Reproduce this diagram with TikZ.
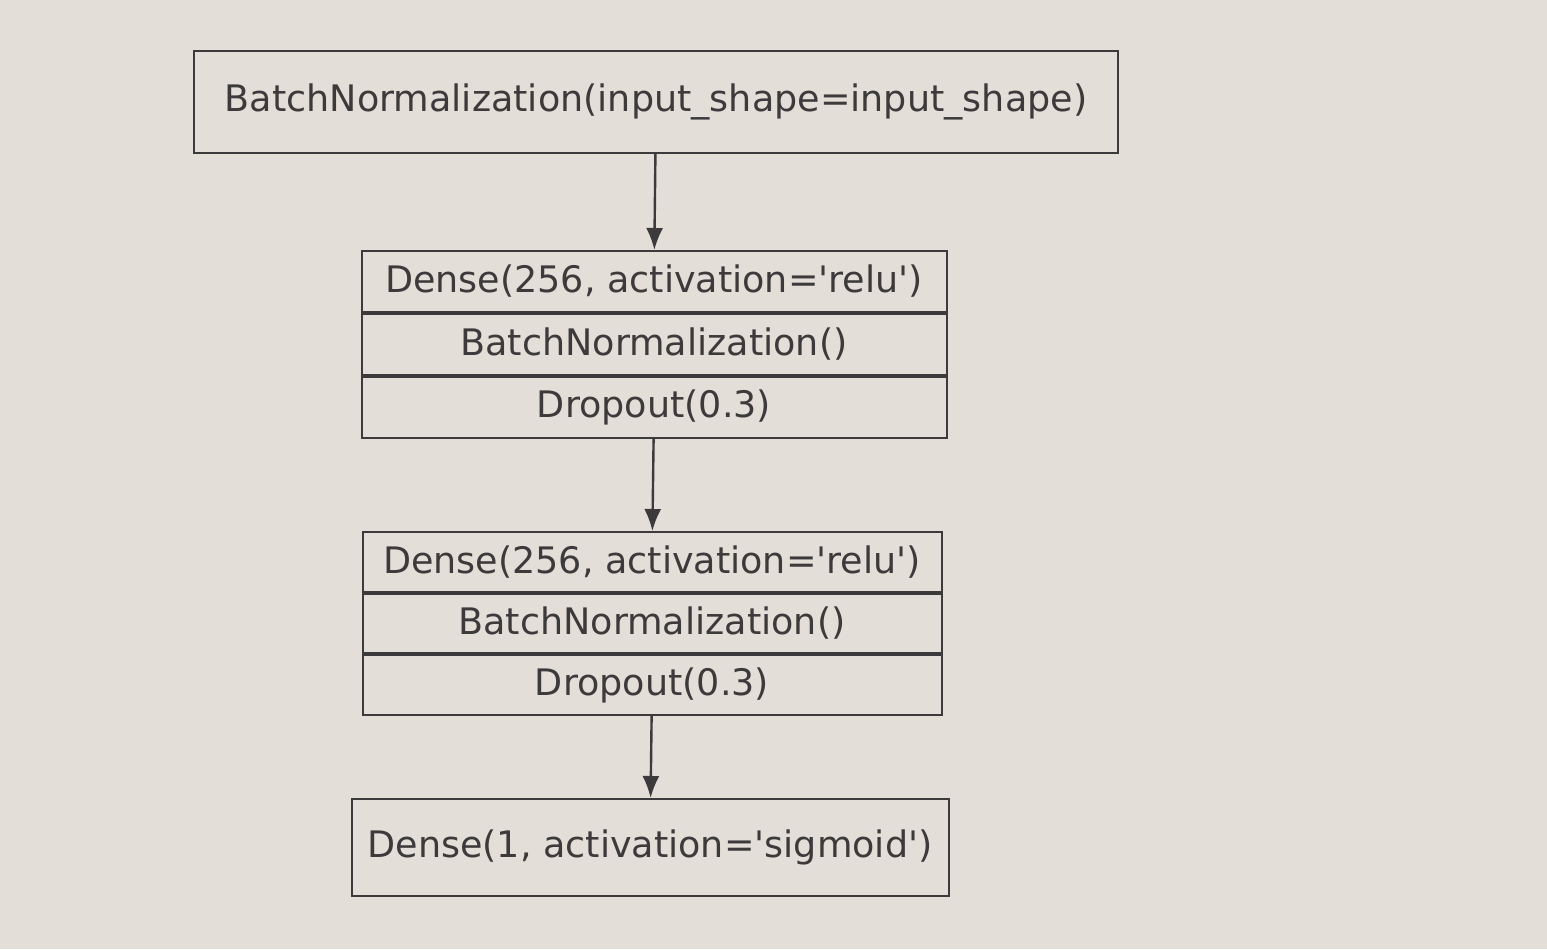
\documentclass[tikz,border=0pt]{standalone}
\usepackage{fontspec}
\setmainfont{DejaVu Sans}
\usetikzlibrary{arrows.meta,positioning}
\definecolor{paper}{HTML}{E4DED8}
\definecolor{ink}{HTML}{3C3A3A}
\newcommand{\q}{\textquotesingle}
\tikzset{
  layer/.style={draw=ink,line width=2bp,text=ink,font=\fontsize{36.5bp}{42bp}\selectfont,inner sep=0pt,anchor=north},
  flow/.style={draw=ink,line width=2.4bp,-{Latex[length=22bp,width=17bp]}},
}
\begin{document}
\begin{tikzpicture}[x=1bp,y=-1bp]
\fill[paper] (0,0) rectangle (1547,949);
\useasboundingbox (0,0) rectangle (1547,949);
%%
\node (input) at (656,50) [layer,minimum width=924bp,minimum height=102bp] {BatchNormalization(input\_shape=input\_shape)};
  \node (dense_a) at (654,250) [layer,minimum width=585bp,minimum height=61bp] {Dense(256, activation=\q relu\q)};
  \node (bn_a) [layer,below=0pt of dense_a,minimum width=585bp,minimum height=61bp] {BatchNormalization()};
  \node (drop_a) [layer,below=0pt of bn_a,minimum width=585bp,minimum height=61bp] {Dropout(0.3)};
  \node (dense_b) at (652,531) [layer,minimum width=579bp,minimum height=60bp] {Dense(256, activation=\q relu\q)};
  \node (bn_b) [layer,below=0pt of dense_b,minimum width=579bp,minimum height=59bp] {BatchNormalization()};
  \node (drop_b) [layer,below=0pt of bn_b,minimum width=579bp,minimum height=60bp] {Dropout(0.3)};
  \node (output) at (650,798) [layer,minimum width=597bp,minimum height=97bp] {Dense(1, activation=\q sigmoid\q)};
  \draw [flow] (input) -- (dense_a);
  \draw [flow] (drop_a) -- (dense_b);
  \draw [flow] (drop_b) -- (output);
%
\end{tikzpicture}
\end{document}
